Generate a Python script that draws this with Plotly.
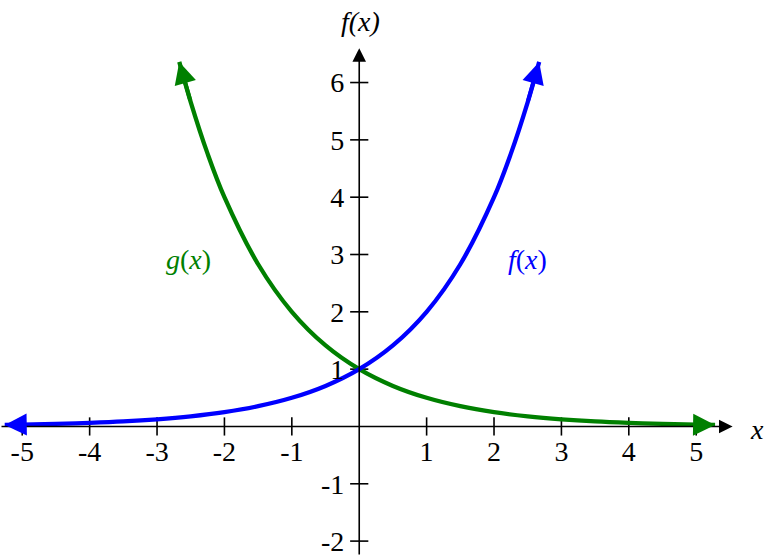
import plotly.graph_objects as go

# f(x) = 2^x  (blue), g(x) = (1/2)^x (green)
f_x = [-5.26, -5, -4.5, -4, -3.5, -3, -2.5, -2, -1.5, -1, -0.5, 0, 0.5, 1, 1.5, 2, 2.25, 2.5, 2.67]
f_y = [0.026, 0.031, 0.044, 0.063, 0.088, 0.125, 0.177, 0.25, 0.354, 0.5, 0.707, 1, 1.414, 2, 2.83, 4, 4.76, 5.66, 6.36]
g_x = [-2.67, -2.5, -2.25, -2, -1.5, -1, -0.5, 0, 0.5, 1, 1.5, 2, 2.5, 3, 3.5, 4, 4.5, 5, 5.28]
g_y = [6.36, 5.66, 4.76, 4, 2.83, 2, 1.414, 1, 0.707, 0.5, 0.354, 0.25, 0.177, 0.125, 0.088, 0.063, 0.044, 0.031, 0.026]

x_ticks = [-5, -4, -3, -2, -1, 1, 2, 3, 4, 5]
x_tick_labels = ["-5", "-4", "-3", "-2", "-1", "1", "2", "3", "4", "5"]
y_ticks = [-2, -1, 1, 2, 3, 4, 5, 6]
y_tick_labels = ["-2", "-1", "1", "2", "3", "4", "5", "6"]

x_range = [-5.33, 6.08]
y_range = [-2.26, 7.44]
x_axis_end = 5.54
y_axis_end = 6.6

BLUE = "#0000ff"
GREEN = "#008000"
FONT = "Liberation Serif"
FS = 28

fig = go.Figure()

# tick marks crossing the axes
fig.add_trace(go.Scatter(x=x_ticks, y=[0] * len(x_ticks), mode="markers",
                         marker=dict(symbol="line-ns", size=13, line=dict(color="black", width=1.6)),
                         hoverinfo="skip", showlegend=False))
fig.add_trace(go.Scatter(x=[0] * len(y_ticks), y=y_ticks, mode="markers",
                         marker=dict(symbol="line-ew", size=13, line=dict(color="black", width=1.6)),
                         hoverinfo="skip", showlegend=False))

fig.add_trace(go.Scatter(x=g_x, y=g_y, mode="lines", line=dict(color=GREEN, width=4.3, shape="spline"),
                         showlegend=False))
fig.add_trace(go.Scatter(x=f_x, y=f_y, mode="lines", line=dict(color=BLUE, width=4.3, shape="spline"),
                         showlegend=False))

ann = []
# axes with arrows
ann.append(dict(x=x_axis_end, y=0, ax=x_range[0], ay=0, xref="x", yref="y", axref="x", ayref="y",
                text="", showarrow=True, arrowhead=2, arrowsize=1.7, arrowwidth=1.6, arrowcolor="black"))
ann.append(dict(x=0, y=y_axis_end, ax=0, ay=y_range[0], xref="x", yref="y", axref="x", ayref="y",
                text="", showarrow=True, arrowhead=2, arrowsize=1.7, arrowwidth=1.6, arrowcolor="black"))
# curve arrow heads
def head(xs, ys, i_tip, i_tail, color):
    return dict(x=xs[i_tip], y=ys[i_tip], ax=xs[i_tail], ay=ys[i_tail], xref="x", yref="y",
                axref="x", ayref="y", text="", showarrow=True, arrowhead=2, arrowsize=1.1,
                arrowwidth=4, arrowcolor=color)
ann.append(head(f_x, f_y, -1, -2, BLUE))
ann.append(head(f_x, f_y, 0, 1, BLUE))
ann.append(head(g_x, g_y, 0, 1, GREEN))
ann.append(head(g_x, g_y, -1, -2, GREEN))

# labels
ann.append(dict(x=0.02, y=7.07, xref="x", yref="y", text="<i>f(x)</i>", showarrow=False,
                font=dict(family=FONT, size=FS, color="black")))
ann.append(dict(x=5.9, y=-0.06, xref="x", yref="y", text="<i>x</i>", showarrow=False,
                font=dict(family=FONT, size=FS, color="black")))
ann.append(dict(x=-2.53, y=2.92, xref="x", yref="y", text="<i>g</i>(<i>x</i>)", showarrow=False,
                font=dict(family=FONT, size=FS, color=GREEN)))
ann.append(dict(x=2.5, y=2.92, xref="x", yref="y", text="<i>f</i>(<i>x</i>)", showarrow=False,
                font=dict(family=FONT, size=FS, color=BLUE)))

fig.update_layout(
    width=769, height=556,
    margin=dict(l=0, r=0, t=0, b=0),
    paper_bgcolor="white", plot_bgcolor="white",
    annotations=ann,
    xaxis=dict(range=x_range, showgrid=False, zeroline=False, showline=False,
               anchor="free", position=(0 - y_range[0]) / (y_range[1] - y_range[0]),
               tickmode="array", tickvals=x_ticks, ticktext=x_tick_labels, ticks="",
               ticklabeloverflow="allow",
               ticklabelstandoff=6, tickfont=dict(family=FONT, size=FS, color="black")),
    yaxis=dict(range=y_range, showgrid=False, zeroline=False, showline=False,
               anchor="free", position=(0 - x_range[0]) / (x_range[1] - x_range[0]),
               tickmode="array", tickvals=y_ticks, ticktext=y_tick_labels, ticks="",
               ticklabeloverflow="allow",
               ticklabelstandoff=15, tickfont=dict(family=FONT, size=FS, color="black")),
)

fig.write_html("out.html", config={"displayModeBar": False},
               post_script="document.body.style.margin='0';")
